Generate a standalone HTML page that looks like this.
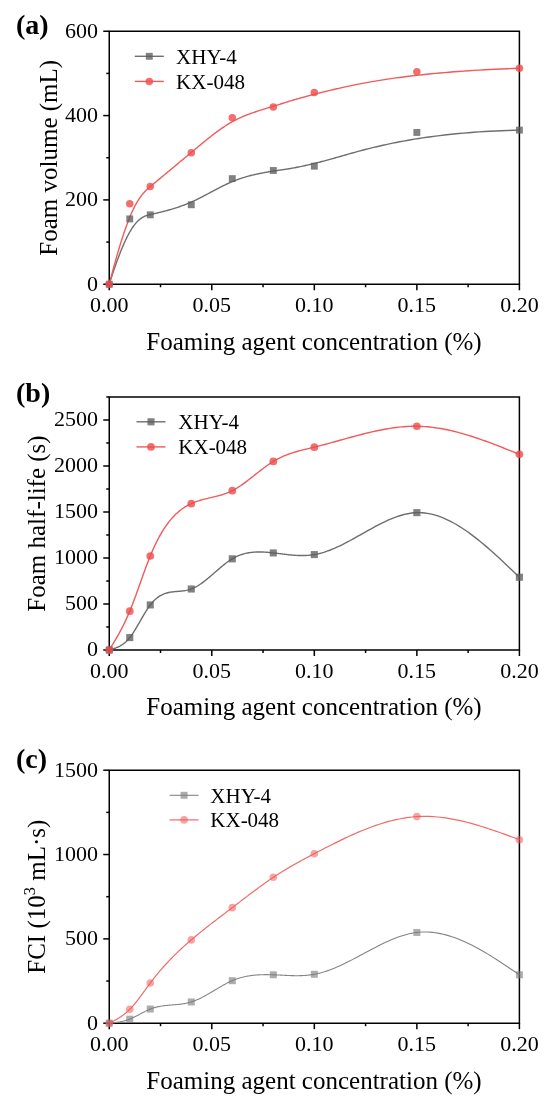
<!DOCTYPE html>
<html><head><meta charset="utf-8"><title>Foaming agent performance</title><style>
html,body{margin:0;padding:0;background:#fff;}
svg{display:block;}
text{font-family:"Liberation Serif","Times New Roman",serif;fill:#000;}
.pl{font-size:28px;font-weight:bold;}
.tl{font-size:22px;}
.lg{font-size:21px;}
.al{font-size:25px;}
.sup{font-size:16.5px;}
.ax{fill:none;stroke:#000;stroke-width:1.5;}
.tk{fill:none;stroke:#000;stroke-width:1.5;}
.cga,.cgb,.cgc{fill:none;stroke:#6e6e6e;stroke-width:1.4;}
.cra,.crb,.crc{fill:none;stroke:#f05a5a;stroke-width:1.4;}
.cgc{stroke:#858585;stroke-width:1.1;}
.crc{stroke:#f26a6a;stroke-width:1.2;}
.mga,.mgb{fill:#5e5e5e;fill-opacity:.78;}
.mra,.mrb{fill:#f04a4a;fill-opacity:.8;}
.mgc{fill:#7a7a7a;fill-opacity:.62;}
.mrc{fill:#f25a5a;fill-opacity:.55;}
</style></head>
<body><svg width="550" height="1105" viewBox="0 0 550 1105">
<text class="pl" x="16" y="34.1">(a)</text>
<path class="ax" d="M109.25 31.25H519.4V284.25H109.25Z"/>
<path class="tk" d="M103.25 284.25H109.25"/>
<text class="tl" x="98" y="290.55" text-anchor="end">0</text>
<path class="tk" d="M106.25 242.08H109.25"/>
<path class="tk" d="M103.25 199.92H109.25"/>
<text class="tl" x="98" y="206.22" text-anchor="end">200</text>
<path class="tk" d="M106.25 157.75H109.25"/>
<path class="tk" d="M103.25 115.58H109.25"/>
<text class="tl" x="98" y="121.88" text-anchor="end">400</text>
<path class="tk" d="M106.25 73.42H109.25"/>
<path class="tk" d="M103.25 31.25H109.25"/>
<text class="tl" x="98" y="37.55" text-anchor="end">600</text>
<path class="tk" d="M109.25 284.25V290.25"/>
<text class="tl" x="109.25" y="311.75" text-anchor="middle">0.00</text>
<path class="tk" d="M160.52 284.25V287.25"/>
<path class="tk" d="M211.79 284.25V290.25"/>
<text class="tl" x="211.79" y="311.75" text-anchor="middle">0.05</text>
<path class="tk" d="M263.06 284.25V287.25"/>
<path class="tk" d="M314.32 284.25V290.25"/>
<text class="tl" x="314.32" y="311.75" text-anchor="middle">0.10</text>
<path class="tk" d="M365.59 284.25V287.25"/>
<path class="tk" d="M416.86 284.25V290.25"/>
<text class="tl" x="416.86" y="311.75" text-anchor="middle">0.15</text>
<path class="tk" d="M468.13 284.25V287.25"/>
<path class="tk" d="M519.4 284.25V290.25"/>
<text class="tl" x="519.4" y="311.75" text-anchor="middle">0.20</text>
<text class="al" x="314" y="349.55" text-anchor="middle">Foaming agent concentration (%)</text>
<text class="al" transform="translate(56.8 157.75) rotate(-90)" text-anchor="middle">Foam volume (mL)</text>
<path class="cga" d="M109.25 284.25 L110.47 280.39 L111.67 276.68 L112.84 273.12 L114 269.7 L115.13 266.43 L116.23 263.28 L117.32 260.28 L118.38 257.4 L119.43 254.66 L120.45 252.04 L121.46 249.54 L122.45 247.16 L123.42 244.89 L124.37 242.74 L125.31 240.7 L126.23 238.76 L127.13 236.93 L128.02 235.2 L128.9 233.57 L129.76 232.02 L130.61 230.57 L131.44 229.21 L132.27 227.94 L133.08 226.74 L133.88 225.62 L134.67 224.58 L135.46 223.61 L136.23 222.71 L136.99 221.88 L137.75 221.11 L138.5 220.4 L139.24 219.74 L139.98 219.14 L140.71 218.59 L141.43 218.09 L142.15 217.63 L142.87 217.22 L143.58 216.84 L144.29 216.49 L145 216.18 L145.71 215.9 L146.41 215.64 L147.12 215.41 L147.82 215.2 L148.53 215 L149.24 214.81 L149.95 214.64 L150.66 214.47 L151.38 214.31 L152.09 214.15 L152.82 213.99 L153.54 213.82 L154.27 213.65 L155.01 213.49 L155.75 213.32 L156.49 213.14 L157.24 212.97 L157.99 212.79 L158.74 212.61 L159.49 212.43 L160.25 212.24 L161.02 212.06 L161.78 211.87 L162.55 211.67 L163.32 211.48 L164.1 211.28 L164.88 211.07 L165.66 210.87 L166.44 210.66 L167.22 210.45 L168.01 210.23 L168.8 210.01 L169.59 209.79 L170.39 209.56 L171.19 209.33 L171.98 209.09 L172.79 208.85 L173.59 208.61 L174.39 208.36 L175.2 208.11 L176.01 207.85 L176.82 207.59 L177.63 207.32 L178.44 207.05 L179.25 206.77 L180.07 206.49 L180.88 206.21 L181.7 205.91 L182.52 205.62 L183.34 205.31 L184.16 205.01 L184.98 204.69 L185.8 204.37 L186.62 204.05 L187.44 203.72 L188.26 203.38 L189.09 203.03 L189.91 202.69 L190.73 202.33 L191.55 201.97 L192.38 201.6 L193.2 201.22 L194.02 200.84 L194.85 200.46 L195.67 200.06 L196.49 199.67 L197.32 199.27 L198.14 198.86 L198.96 198.45 L199.78 198.04 L200.61 197.62 L201.43 197.2 L202.25 196.78 L203.08 196.35 L203.9 195.92 L204.72 195.49 L205.55 195.06 L206.37 194.62 L207.19 194.18 L208.02 193.75 L208.84 193.31 L209.66 192.87 L210.48 192.43 L211.31 191.99 L212.13 191.55 L212.95 191.11 L213.78 190.68 L214.6 190.24 L215.42 189.8 L216.25 189.37 L217.07 188.94 L217.89 188.51 L218.71 188.08 L219.54 187.65 L220.36 187.23 L221.18 186.81 L222.01 186.4 L222.83 185.99 L223.65 185.58 L224.48 185.18 L225.3 184.78 L226.12 184.39 L226.95 184 L227.77 183.62 L228.59 183.24 L229.41 182.87 L230.24 182.51 L231.06 182.15 L231.88 181.8 L232.71 181.45 L233.53 181.12 L234.35 180.79 L235.18 180.46 L236 180.15 L236.82 179.84 L237.64 179.54 L238.47 179.24 L239.29 178.95 L240.11 178.67 L240.94 178.39 L241.76 178.12 L242.58 177.85 L243.41 177.59 L244.23 177.34 L245.05 177.09 L245.88 176.85 L246.7 176.61 L247.52 176.38 L248.34 176.15 L249.17 175.93 L249.99 175.71 L250.81 175.5 L251.64 175.29 L252.46 175.09 L253.28 174.89 L254.11 174.7 L254.93 174.51 L255.75 174.32 L256.57 174.14 L257.4 173.96 L258.22 173.79 L259.04 173.62 L259.87 173.45 L260.69 173.29 L261.51 173.13 L262.34 172.97 L263.16 172.82 L263.98 172.67 L264.81 172.52 L265.63 172.37 L266.45 172.23 L267.27 172.09 L268.1 171.95 L268.92 171.81 L269.74 171.68 L270.57 171.55 L271.39 171.42 L272.21 171.29 L273.04 171.17 L273.86 171.04 L274.68 170.92 L275.51 170.8 L276.34 170.67 L277.17 170.55 L278 170.43 L278.84 170.31 L279.69 170.18 L280.54 170.06 L281.4 169.93 L282.27 169.8 L283.15 169.67 L284.04 169.53 L284.95 169.39 L285.86 169.25 L286.79 169.1 L287.73 168.95 L288.69 168.79 L289.66 168.62 L290.65 168.45 L291.66 168.28 L292.69 168.1 L293.73 167.91 L294.8 167.71 L295.89 167.5 L297 167.29 L298.14 167.06 L299.3 166.83 L300.48 166.59 L301.69 166.34 L302.93 166.08 L304.2 165.8 L305.49 165.52 L306.82 165.22 L308.17 164.91 L309.56 164.59 L310.98 164.26 L312.43 163.91 L313.92 163.55 L315.44 163.17 L317 162.78 L318.59 162.38 L320.23 161.96 L321.9 161.53 L323.61 161.07 L325.36 160.61 L327.16 160.12 L328.99 159.62 L330.87 159.1 L332.8 158.56 L334.77 158 L336.79 157.43 L338.85 156.84 L340.97 156.23 L343.13 155.61 L345.35 154.97 L347.62 154.32 L349.96 153.67 L352.34 153 L354.79 152.32 L357.3 151.63 L359.87 150.94 L362.5 150.24 L365.2 149.54 L367.97 148.83 L370.81 148.12 L373.71 147.41 L376.69 146.7 L379.75 145.99 L382.87 145.28 L386.08 144.57 L389.36 143.87 L392.72 143.17 L396.16 142.48 L399.69 141.79 L403.3 141.12 L407 140.45 L410.78 139.79 L414.65 139.15 L418.62 138.51 L422.68 137.89 L426.83 137.29 L431.07 136.7 L435.42 136.13 L439.86 135.57 L444.4 135.04 L449.04 134.52 L453.79 134.03 L458.64 133.55 L463.6 133.1 L468.67 132.68 L473.85 132.28 L479.14 131.91 L484.54 131.56 L490.05 131.25 L495.68 130.96 L501.43 130.7 L507.3 130.48 L513.29 130.29 L519.4 130.13"/>
<path class="cra" d="M109.25 284.25 L110.47 279.49 L111.67 274.9 L112.84 270.47 L114 266.21 L115.13 262.11 L116.23 258.16 L117.32 254.36 L118.38 250.72 L119.43 247.22 L120.45 243.86 L121.46 240.64 L122.45 237.55 L123.42 234.6 L124.37 231.77 L125.31 229.07 L126.23 226.49 L127.13 224.02 L128.02 221.67 L128.9 219.43 L129.76 217.29 L130.61 215.26 L131.44 213.32 L132.27 211.48 L133.08 209.74 L133.88 208.08 L134.67 206.51 L135.46 205.01 L136.23 203.6 L136.99 202.26 L137.75 200.99 L138.5 199.79 L139.24 198.65 L139.98 197.58 L140.71 196.56 L141.43 195.59 L142.15 194.67 L142.87 193.8 L143.58 192.97 L144.29 192.18 L145 191.42 L145.71 190.7 L146.41 190 L147.12 189.33 L147.82 188.68 L148.53 188.05 L149.24 187.43 L149.95 186.82 L150.66 186.22 L151.38 185.62 L152.09 185.02 L152.82 184.42 L153.54 183.82 L154.27 183.21 L155.01 182.6 L155.75 181.99 L156.49 181.37 L157.24 180.76 L157.99 180.13 L158.74 179.51 L159.49 178.88 L160.25 178.25 L161.02 177.62 L161.78 176.99 L162.55 176.35 L163.32 175.71 L164.1 175.07 L164.88 174.43 L165.66 173.78 L166.44 173.13 L167.22 172.48 L168.01 171.83 L168.8 171.18 L169.59 170.52 L170.39 169.86 L171.19 169.2 L171.98 168.54 L172.79 167.88 L173.59 167.21 L174.39 166.54 L175.2 165.88 L176.01 165.21 L176.82 164.53 L177.63 163.86 L178.44 163.19 L179.25 162.51 L180.07 161.83 L180.88 161.16 L181.7 160.48 L182.52 159.8 L183.34 159.11 L184.16 158.43 L184.98 157.75 L185.8 157.06 L186.62 156.38 L187.44 155.69 L188.26 155 L189.09 154.32 L189.91 153.63 L190.73 152.94 L191.55 152.25 L192.38 151.56 L193.2 150.87 L194.02 150.18 L194.85 149.49 L195.67 148.8 L196.49 148.11 L197.32 147.42 L198.14 146.73 L198.96 146.05 L199.78 145.36 L200.61 144.68 L201.43 144 L202.25 143.32 L203.08 142.64 L203.9 141.97 L204.72 141.3 L205.55 140.63 L206.37 139.96 L207.19 139.3 L208.02 138.64 L208.84 137.99 L209.66 137.33 L210.48 136.69 L211.31 136.04 L212.13 135.4 L212.95 134.77 L213.78 134.14 L214.6 133.52 L215.42 132.9 L216.25 132.29 L217.07 131.68 L217.89 131.08 L218.71 130.48 L219.54 129.89 L220.36 129.31 L221.18 128.73 L222.01 128.17 L222.83 127.6 L223.65 127.05 L224.48 126.5 L225.3 125.97 L226.12 125.44 L226.95 124.91 L227.77 124.4 L228.59 123.89 L229.41 123.4 L230.24 122.91 L231.06 122.43 L231.88 121.96 L232.71 121.5 L233.53 121.05 L234.35 120.61 L235.18 120.18 L236 119.76 L236.82 119.35 L237.64 118.94 L238.47 118.55 L239.29 118.16 L240.11 117.78 L240.94 117.41 L241.76 117.04 L242.58 116.68 L243.41 116.33 L244.23 115.99 L245.05 115.65 L245.88 115.32 L246.7 114.99 L247.52 114.67 L248.34 114.36 L249.17 114.05 L249.99 113.74 L250.81 113.45 L251.64 113.15 L252.46 112.86 L253.28 112.58 L254.11 112.29 L254.93 112.02 L255.75 111.74 L256.57 111.47 L257.4 111.2 L258.22 110.94 L259.04 110.67 L259.87 110.41 L260.69 110.16 L261.51 109.9 L262.34 109.64 L263.16 109.39 L263.98 109.14 L264.81 108.89 L265.63 108.64 L266.45 108.39 L267.27 108.14 L268.1 107.89 L268.92 107.64 L269.74 107.4 L270.57 107.15 L271.39 106.9 L272.21 106.64 L273.04 106.39 L273.86 106.14 L274.68 105.88 L275.51 105.62 L276.34 105.36 L277.17 105.1 L278 104.84 L278.84 104.58 L279.69 104.31 L280.54 104.04 L281.4 103.77 L282.27 103.49 L283.15 103.21 L284.04 102.93 L284.95 102.65 L285.86 102.37 L286.79 102.08 L287.73 101.78 L288.69 101.49 L289.66 101.19 L290.65 100.89 L291.66 100.58 L292.69 100.27 L293.73 99.96 L294.8 99.65 L295.89 99.32 L297 99 L298.14 98.67 L299.3 98.34 L300.48 98 L301.69 97.66 L302.93 97.31 L304.2 96.96 L305.49 96.61 L306.82 96.24 L308.17 95.88 L309.56 95.51 L310.98 95.13 L312.43 94.75 L313.92 94.36 L315.44 93.97 L317 93.57 L318.59 93.17 L320.23 92.76 L321.9 92.35 L323.61 91.93 L325.36 91.5 L327.16 91.07 L328.99 90.63 L330.87 90.18 L332.8 89.73 L334.77 89.27 L336.79 88.8 L338.85 88.33 L340.97 87.85 L343.13 87.37 L345.35 86.89 L347.62 86.4 L349.96 85.91 L352.34 85.41 L354.79 84.91 L357.3 84.41 L359.87 83.91 L362.5 83.41 L365.2 82.9 L367.97 82.4 L370.81 81.89 L373.71 81.39 L376.69 80.89 L379.75 80.39 L382.87 79.89 L386.08 79.39 L389.36 78.9 L392.72 78.41 L396.16 77.93 L399.69 77.45 L403.3 76.97 L407 76.5 L410.78 76.04 L414.65 75.58 L418.62 75.13 L422.68 74.68 L426.83 74.25 L431.07 73.82 L435.42 73.4 L439.86 72.99 L444.4 72.59 L449.04 72.19 L453.79 71.81 L458.64 71.44 L463.6 71.08 L468.67 70.74 L473.85 70.4 L479.14 70.08 L484.54 69.77 L490.05 69.48 L495.68 69.2 L501.43 68.93 L507.3 68.68 L513.29 68.45 L519.4 68.23"/>
<rect class="mga" x="105.8" y="280.8" width="6.9" height="6.9"/>
<rect class="mga" x="126.31" y="215.44" width="6.9" height="6.9"/>
<rect class="mga" x="146.81" y="211.39" width="6.9" height="6.9"/>
<rect class="mga" x="187.83" y="201.32" width="6.9" height="6.9"/>
<rect class="mga" x="228.84" y="175.17" width="6.9" height="6.9"/>
<rect class="mga" x="269.86" y="167.03" width="6.9" height="6.9"/>
<rect class="mga" x="310.88" y="162.73" width="6.9" height="6.9"/>
<rect class="mga" x="413.41" y="129" width="6.9" height="6.9"/>
<rect class="mga" x="515.95" y="126.68" width="6.9" height="6.9"/>
<circle class="mra" cx="109.25" cy="284.25" r="3.75"/>
<circle class="mra" cx="129.76" cy="203.71" r="3.75"/>
<circle class="mra" cx="150.26" cy="186.42" r="3.75"/>
<circle class="mra" cx="191.28" cy="152.69" r="3.75"/>
<circle class="mra" cx="232.29" cy="117.69" r="3.75"/>
<circle class="mra" cx="273.31" cy="106.94" r="3.75"/>
<circle class="mra" cx="314.32" cy="92.39" r="3.75"/>
<circle class="mra" cx="416.86" cy="71.73" r="3.75"/>
<circle class="mra" cx="519.4" cy="68.23" r="3.75"/>
<path class="cga" d="M134.8 56.3H163.8"/>
<rect class="mga" x="145.85" y="52.85" width="6.9" height="6.9"/>
<text class="lg" x="176.1" y="63.5">XHY-4</text>
<path class="cra" d="M134.8 81.4H163.8"/>
<circle class="mra" cx="149.3" cy="81.4" r="3.75"/>
<text class="lg" x="176.1" y="88.6">KX-048</text>
<text class="pl" x="16" y="401.7">(b)</text>
<path class="ax" d="M109.25 397H519.4V650H109.25Z"/>
<path class="tk" d="M103.25 650H109.25"/>
<text class="tl" x="98" y="656.3" text-anchor="end">0</text>
<path class="tk" d="M106.25 627H109.25"/>
<path class="tk" d="M103.25 604H109.25"/>
<text class="tl" x="98" y="610.3" text-anchor="end">500</text>
<path class="tk" d="M106.25 581H109.25"/>
<path class="tk" d="M103.25 558H109.25"/>
<text class="tl" x="98" y="564.3" text-anchor="end">1000</text>
<path class="tk" d="M106.25 535H109.25"/>
<path class="tk" d="M103.25 512H109.25"/>
<text class="tl" x="98" y="518.3" text-anchor="end">1500</text>
<path class="tk" d="M106.25 489H109.25"/>
<path class="tk" d="M103.25 466H109.25"/>
<text class="tl" x="98" y="472.3" text-anchor="end">2000</text>
<path class="tk" d="M106.25 443H109.25"/>
<path class="tk" d="M103.25 420H109.25"/>
<text class="tl" x="98" y="426.3" text-anchor="end">2500</text>
<path class="tk" d="M106.25 397H109.25"/>
<path class="tk" d="M109.25 650V656"/>
<text class="tl" x="109.25" y="677.5" text-anchor="middle">0.00</text>
<path class="tk" d="M160.52 650V653"/>
<path class="tk" d="M211.79 650V656"/>
<text class="tl" x="211.79" y="677.5" text-anchor="middle">0.05</text>
<path class="tk" d="M263.06 650V653"/>
<path class="tk" d="M314.32 650V656"/>
<text class="tl" x="314.32" y="677.5" text-anchor="middle">0.10</text>
<path class="tk" d="M365.59 650V653"/>
<path class="tk" d="M416.86 650V656"/>
<text class="tl" x="416.86" y="677.5" text-anchor="middle">0.15</text>
<path class="tk" d="M468.13 650V653"/>
<path class="tk" d="M519.4 650V656"/>
<text class="tl" x="519.4" y="677.5" text-anchor="middle">0.20</text>
<text class="al" x="314" y="715.3" text-anchor="middle">Foaming agent concentration (%)</text>
<text class="al" transform="translate(44.8 523.5) rotate(-90)" text-anchor="middle">Foam half-life (s)</text>
<path class="cgb" d="M109.25 650 L109.76 649.85 L110.28 649.71 L110.79 649.56 L111.3 649.41 L111.81 649.26 L112.33 649.11 L112.84 648.95 L113.35 648.79 L113.86 648.62 L114.38 648.45 L114.89 648.27 L115.4 648.08 L115.91 647.89 L116.43 647.68 L116.94 647.47 L117.45 647.25 L117.97 647.03 L118.48 646.78 L118.99 646.53 L119.5 646.27 L120.02 646 L120.53 645.71 L121.04 645.4 L121.55 645.09 L122.07 644.76 L122.58 644.41 L123.09 644.05 L123.61 643.67 L124.12 643.27 L124.63 642.86 L125.14 642.42 L125.66 641.97 L126.17 641.5 L126.68 641 L127.19 640.49 L127.71 639.95 L128.22 639.39 L128.73 638.81 L129.24 638.21 L129.76 637.58 L130.27 636.93 L130.78 636.25 L131.3 635.55 L131.81 634.83 L132.32 634.09 L132.83 633.33 L133.35 632.55 L133.86 631.76 L134.37 630.95 L134.88 630.13 L135.4 629.29 L135.91 628.45 L136.42 627.59 L136.94 626.72 L137.45 625.85 L137.96 624.97 L138.47 624.08 L138.99 623.19 L139.5 622.29 L140.01 621.4 L140.52 620.5 L141.04 619.6 L141.55 618.71 L142.06 617.82 L142.57 616.93 L143.09 616.05 L143.6 615.17 L144.11 614.3 L144.63 613.44 L145.14 612.59 L145.65 611.76 L146.16 610.93 L146.68 610.12 L147.19 609.32 L147.7 608.54 L148.21 607.78 L148.73 607.03 L149.24 606.31 L149.75 605.6 L150.26 604.92 L151.29 603.62 L152.32 602.42 L153.34 601.3 L154.37 600.26 L155.39 599.31 L156.42 598.42 L157.44 597.62 L158.47 596.88 L159.49 596.2 L160.52 595.59 L161.54 595.04 L162.57 594.54 L163.59 594.09 L164.62 593.7 L165.65 593.34 L166.67 593.03 L167.7 592.76 L168.72 592.52 L169.75 592.31 L170.77 592.13 L171.8 591.98 L172.82 591.84 L173.85 591.72 L174.87 591.62 L175.9 591.53 L176.92 591.44 L177.95 591.35 L178.98 591.27 L180 591.18 L181.03 591.09 L182.05 590.99 L183.08 590.87 L184.1 590.73 L185.13 590.57 L186.15 590.39 L187.18 590.18 L188.2 589.94 L189.23 589.67 L190.25 589.36 L191.28 589 L192.31 588.61 L193.33 588.16 L194.36 587.68 L195.38 587.16 L196.41 586.6 L197.43 586.01 L198.46 585.38 L199.48 584.72 L200.51 584.04 L201.53 583.32 L202.56 582.58 L203.58 581.82 L204.61 581.03 L205.64 580.23 L206.66 579.4 L207.69 578.56 L208.71 577.71 L209.74 576.85 L210.76 575.97 L211.79 575.09 L212.81 574.21 L213.84 573.31 L214.86 572.42 L215.89 571.53 L216.91 570.64 L217.94 569.75 L218.97 568.87 L219.99 567.99 L221.02 567.13 L222.04 566.28 L223.07 565.44 L224.09 564.62 L225.12 563.81 L226.14 563.02 L227.17 562.26 L228.19 561.52 L229.22 560.8 L230.24 560.11 L231.27 559.46 L232.29 558.83 L233.32 558.23 L234.35 557.67 L235.37 557.14 L236.4 556.64 L237.42 556.17 L238.45 555.73 L239.47 555.32 L240.5 554.94 L241.52 554.58 L242.55 554.25 L243.57 553.95 L244.6 553.67 L245.62 553.41 L246.65 553.18 L247.68 552.97 L248.7 552.79 L249.73 552.62 L250.75 552.48 L251.78 552.35 L252.8 552.24 L253.83 552.16 L254.85 552.09 L255.88 552.03 L256.9 551.99 L257.93 551.97 L258.95 551.96 L259.98 551.97 L261.01 551.99 L262.03 552.02 L263.06 552.06 L264.08 552.11 L265.11 552.17 L266.13 552.24 L267.16 552.32 L268.18 552.41 L269.21 552.51 L270.23 552.61 L271.26 552.71 L272.28 552.83 L273.31 552.94 L274.34 553.06 L275.36 553.18 L276.39 553.3 L277.41 553.43 L278.44 553.55 L279.46 553.68 L280.49 553.8 L281.51 553.93 L282.54 554.05 L283.56 554.18 L284.59 554.3 L285.61 554.42 L286.64 554.53 L287.67 554.64 L288.69 554.75 L289.72 554.86 L290.74 554.95 L291.77 555.05 L292.79 555.13 L293.82 555.21 L294.84 555.28 L295.87 555.35 L296.89 555.41 L297.92 555.45 L298.94 555.49 L299.97 555.52 L301 555.54 L302.02 555.54 L303.05 555.54 L304.07 555.52 L305.1 555.5 L306.12 555.45 L307.15 555.4 L308.17 555.33 L309.2 555.25 L310.22 555.15 L311.25 555.04 L312.27 554.91 L313.3 554.76 L314.32 554.6 L316.89 554.11 L319.45 553.52 L322.02 552.84 L324.58 552.06 L327.14 551.19 L329.71 550.24 L332.27 549.22 L334.83 548.14 L337.4 546.98 L339.96 545.78 L342.52 544.52 L345.09 543.21 L347.65 541.87 L350.21 540.5 L352.78 539.09 L355.34 537.67 L357.9 536.23 L360.47 534.78 L363.03 533.33 L365.59 531.89 L368.16 530.45 L370.72 529.02 L373.28 527.62 L375.85 526.24 L378.41 524.9 L380.97 523.59 L383.54 522.33 L386.1 521.11 L388.66 519.96 L391.23 518.86 L393.79 517.84 L396.36 516.89 L398.92 516.01 L401.48 515.23 L404.05 514.53 L406.61 513.94 L409.17 513.44 L411.74 513.06 L414.3 512.79 L416.86 512.64 L419.49 512.62 L422.12 512.74 L424.75 512.97 L427.38 513.33 L430.01 513.82 L432.64 514.42 L435.27 515.13 L437.9 515.95 L440.52 516.88 L443.15 517.91 L445.78 519.04 L448.41 520.27 L451.04 521.59 L453.67 523 L456.3 524.5 L458.93 526.07 L461.56 527.73 L464.19 529.46 L466.82 531.27 L469.45 533.14 L472.07 535.08 L474.7 537.08 L477.33 539.14 L479.96 541.26 L482.59 543.42 L485.22 545.63 L487.85 547.89 L490.48 550.19 L493.11 552.53 L495.74 554.9 L498.37 557.3 L501 559.74 L503.62 562.19 L506.25 564.66 L508.88 567.16 L511.51 569.66 L514.14 572.18 L516.77 574.7 L519.4 577.23"/>
<path class="crb" d="M109.25 650 L109.76 649.16 L110.28 648.33 L110.79 647.49 L111.3 646.65 L111.81 645.81 L112.33 644.97 L112.84 644.12 L113.35 643.27 L113.86 642.42 L114.38 641.56 L114.89 640.69 L115.4 639.83 L115.91 638.95 L116.43 638.07 L116.94 637.18 L117.45 636.28 L117.97 635.38 L118.48 634.47 L118.99 633.54 L119.5 632.61 L120.02 631.67 L120.53 630.72 L121.04 629.75 L121.55 628.78 L122.07 627.79 L122.58 626.79 L123.09 625.78 L123.61 624.75 L124.12 623.71 L124.63 622.65 L125.14 621.58 L125.66 620.49 L126.17 619.39 L126.68 618.27 L127.19 617.14 L127.71 615.98 L128.22 614.81 L128.73 613.62 L129.24 612.41 L129.76 611.18 L130.27 609.93 L130.78 608.66 L131.3 607.37 L131.81 606.06 L132.32 604.74 L132.83 603.41 L133.35 602.05 L133.86 600.69 L134.37 599.31 L134.88 597.93 L135.4 596.53 L135.91 595.12 L136.42 593.71 L136.94 592.28 L137.45 590.85 L137.96 589.42 L138.47 587.98 L138.99 586.54 L139.5 585.09 L140.01 583.65 L140.52 582.2 L141.04 580.76 L141.55 579.31 L142.06 577.87 L142.57 576.43 L143.09 575 L143.6 573.57 L144.11 572.15 L144.63 570.74 L145.14 569.33 L145.65 567.94 L146.16 566.55 L146.68 565.18 L147.19 563.82 L147.7 562.47 L148.21 561.14 L148.73 559.82 L149.24 558.52 L149.75 557.24 L150.26 555.98 L151.29 553.51 L152.32 551.11 L153.34 548.79 L154.37 546.55 L155.39 544.38 L156.42 542.27 L157.44 540.24 L158.47 538.28 L159.49 536.39 L160.52 534.56 L161.54 532.79 L162.57 531.09 L163.59 529.45 L164.62 527.87 L165.65 526.35 L166.67 524.89 L167.7 523.48 L168.72 522.13 L169.75 520.84 L170.77 519.59 L171.8 518.4 L172.82 517.26 L173.85 516.16 L174.87 515.11 L175.9 514.11 L176.92 513.15 L177.95 512.23 L178.98 511.36 L180 510.53 L181.03 509.73 L182.05 508.98 L183.08 508.25 L184.1 507.57 L185.13 506.92 L186.15 506.3 L187.18 505.71 L188.2 505.15 L189.23 504.61 L190.25 504.11 L191.28 503.63 L192.31 503.17 L193.33 502.74 L194.36 502.33 L195.38 501.94 L196.41 501.56 L197.43 501.21 L198.46 500.87 L199.48 500.55 L200.51 500.24 L201.53 499.94 L202.56 499.66 L203.58 499.38 L204.61 499.12 L205.64 498.86 L206.66 498.61 L207.69 498.36 L208.71 498.12 L209.74 497.88 L210.76 497.64 L211.79 497.4 L212.81 497.16 L213.84 496.91 L214.86 496.67 L215.89 496.42 L216.91 496.16 L217.94 495.89 L218.97 495.62 L219.99 495.33 L221.02 495.03 L222.04 494.73 L223.07 494.4 L224.09 494.06 L225.12 493.71 L226.14 493.34 L227.17 492.94 L228.19 492.53 L229.22 492.1 L230.24 491.64 L231.27 491.16 L232.29 490.66 L233.32 490.12 L234.35 489.57 L235.37 488.98 L236.4 488.38 L237.42 487.75 L238.45 487.11 L239.47 486.44 L240.5 485.75 L241.52 485.05 L242.55 484.33 L243.57 483.6 L244.6 482.86 L245.62 482.1 L246.65 481.33 L247.68 480.55 L248.7 479.76 L249.73 478.97 L250.75 478.17 L251.78 477.36 L252.8 476.55 L253.83 475.74 L254.85 474.92 L255.88 474.11 L256.9 473.3 L257.93 472.49 L258.95 471.68 L259.98 470.88 L261.01 470.08 L262.03 469.29 L263.06 468.51 L264.08 467.73 L265.11 466.97 L266.13 466.22 L267.16 465.48 L268.18 464.76 L269.21 464.05 L270.23 463.36 L271.26 462.69 L272.28 462.03 L273.31 461.4 L274.34 460.79 L275.36 460.19 L276.39 459.62 L277.41 459.07 L278.44 458.54 L279.46 458.02 L280.49 457.53 L281.51 457.05 L282.54 456.58 L283.56 456.13 L284.59 455.7 L285.61 455.29 L286.64 454.88 L287.67 454.49 L288.69 454.12 L289.72 453.75 L290.74 453.4 L291.77 453.06 L292.79 452.73 L293.82 452.41 L294.84 452.09 L295.87 451.79 L296.89 451.5 L297.92 451.21 L298.94 450.93 L299.97 450.65 L301 450.39 L302.02 450.12 L303.05 449.86 L304.07 449.61 L305.1 449.36 L306.12 449.11 L307.15 448.86 L308.17 448.62 L309.2 448.37 L310.22 448.13 L311.25 447.88 L312.27 447.64 L313.3 447.39 L314.32 447.14 L316.89 446.51 L319.45 445.85 L322.02 445.19 L324.58 444.51 L327.14 443.83 L329.71 443.13 L332.27 442.43 L334.83 441.72 L337.4 441.01 L339.96 440.29 L342.52 439.58 L345.09 438.86 L347.65 438.15 L350.21 437.45 L352.78 436.75 L355.34 436.06 L357.9 435.37 L360.47 434.7 L363.03 434.05 L365.59 433.4 L368.16 432.78 L370.72 432.17 L373.28 431.58 L375.85 431.02 L378.41 430.47 L380.97 429.95 L383.54 429.46 L386.1 429 L388.66 428.57 L391.23 428.16 L393.79 427.79 L396.36 427.46 L398.92 427.16 L401.48 426.91 L404.05 426.69 L406.61 426.51 L409.17 426.38 L411.74 426.29 L414.3 426.25 L416.86 426.26 L419.49 426.32 L422.12 426.43 L424.75 426.59 L427.38 426.8 L430.01 427.05 L432.64 427.36 L435.27 427.7 L437.9 428.09 L440.52 428.53 L443.15 429 L445.78 429.51 L448.41 430.06 L451.04 430.65 L453.67 431.27 L456.3 431.93 L458.93 432.62 L461.56 433.34 L464.19 434.09 L466.82 434.87 L469.45 435.67 L472.07 436.5 L474.7 437.36 L477.33 438.24 L479.96 439.14 L482.59 440.06 L485.22 441 L487.85 441.95 L490.48 442.93 L493.11 443.91 L495.74 444.92 L498.37 445.93 L501 446.95 L503.62 447.99 L506.25 449.03 L508.88 450.08 L511.51 451.13 L514.14 452.19 L516.77 453.25 L519.4 454.32"/>
<rect class="mgb" x="105.7" y="646.45" width="7.1" height="7.1"/>
<rect class="mgb" x="126.21" y="634.03" width="7.1" height="7.1"/>
<rect class="mgb" x="146.71" y="601.37" width="7.1" height="7.1"/>
<rect class="mgb" x="187.73" y="585.45" width="7.1" height="7.1"/>
<rect class="mgb" x="228.74" y="555.28" width="7.1" height="7.1"/>
<rect class="mgb" x="269.76" y="549.39" width="7.1" height="7.1"/>
<rect class="mgb" x="310.77" y="551.05" width="7.1" height="7.1"/>
<rect class="mgb" x="413.31" y="509.09" width="7.1" height="7.1"/>
<rect class="mgb" x="515.85" y="573.68" width="7.1" height="7.1"/>
<circle class="mrb" cx="109.25" cy="650" r="3.85"/>
<circle class="mrb" cx="129.76" cy="611.18" r="3.85"/>
<circle class="mrb" cx="150.26" cy="555.98" r="3.85"/>
<circle class="mrb" cx="191.28" cy="503.63" r="3.85"/>
<circle class="mrb" cx="232.29" cy="490.66" r="3.85"/>
<circle class="mrb" cx="273.31" cy="461.4" r="3.85"/>
<circle class="mrb" cx="314.32" cy="447.14" r="3.85"/>
<circle class="mrb" cx="416.86" cy="426.26" r="3.85"/>
<circle class="mrb" cx="519.4" cy="454.32" r="3.85"/>
<path class="cgb" d="M136.5 421.8H165.5"/>
<rect class="mgb" x="147.45" y="418.25" width="7.1" height="7.1"/>
<text class="lg" x="178.3" y="429">XHY-4</text>
<path class="crb" d="M136.5 446.9H165.5"/>
<circle class="mrb" cx="151" cy="446.9" r="3.85"/>
<text class="lg" x="178.3" y="454.1">KX-048</text>
<text class="pl" x="16" y="767.9">(c)</text>
<path class="ax" d="M109.25 770.2H519.4V1023.2H109.25Z"/>
<path class="tk" d="M103.25 1023.2H109.25"/>
<text class="tl" x="98" y="1029.5" text-anchor="end">0</text>
<path class="tk" d="M106.25 981.03H109.25"/>
<path class="tk" d="M103.25 938.87H109.25"/>
<text class="tl" x="98" y="945.17" text-anchor="end">500</text>
<path class="tk" d="M106.25 896.7H109.25"/>
<path class="tk" d="M103.25 854.53H109.25"/>
<text class="tl" x="98" y="860.83" text-anchor="end">1000</text>
<path class="tk" d="M106.25 812.37H109.25"/>
<path class="tk" d="M103.25 770.2H109.25"/>
<text class="tl" x="98" y="776.5" text-anchor="end">1500</text>
<path class="tk" d="M109.25 1023.2V1029.2"/>
<text class="tl" x="109.25" y="1050.7" text-anchor="middle">0.00</text>
<path class="tk" d="M160.52 1023.2V1026.2"/>
<path class="tk" d="M211.79 1023.2V1029.2"/>
<text class="tl" x="211.79" y="1050.7" text-anchor="middle">0.05</text>
<path class="tk" d="M263.06 1023.2V1026.2"/>
<path class="tk" d="M314.32 1023.2V1029.2"/>
<text class="tl" x="314.32" y="1050.7" text-anchor="middle">0.10</text>
<path class="tk" d="M365.59 1023.2V1026.2"/>
<path class="tk" d="M416.86 1023.2V1029.2"/>
<text class="tl" x="416.86" y="1050.7" text-anchor="middle">0.15</text>
<path class="tk" d="M468.13 1023.2V1026.2"/>
<path class="tk" d="M519.4 1023.2V1029.2"/>
<text class="tl" x="519.4" y="1050.7" text-anchor="middle">0.20</text>
<text class="al" x="314" y="1088.5" text-anchor="middle">Foaming agent concentration (%)</text>
<text class="al" transform="translate(44.8 896.7) rotate(-90)" text-anchor="middle">FCI (10<tspan class="sup" dy="-10">3</tspan><tspan dy="10"> mL·s)</tspan></text>
<path class="cgc" d="M109.25 1023.2 L109.76 1023.15 L110.28 1023.1 L110.79 1023.05 L111.3 1023 L111.81 1022.94 L112.33 1022.89 L112.84 1022.83 L113.35 1022.78 L113.86 1022.72 L114.38 1022.66 L114.89 1022.6 L115.4 1022.54 L115.91 1022.47 L116.43 1022.4 L116.94 1022.33 L117.45 1022.26 L117.97 1022.18 L118.48 1022.1 L118.99 1022.02 L119.5 1021.93 L120.02 1021.84 L120.53 1021.75 L121.04 1021.65 L121.55 1021.55 L122.07 1021.44 L122.58 1021.33 L123.09 1021.21 L123.61 1021.09 L124.12 1020.96 L124.63 1020.83 L125.14 1020.69 L125.66 1020.54 L126.17 1020.39 L126.68 1020.24 L127.19 1020.07 L127.71 1019.9 L128.22 1019.73 L128.73 1019.54 L129.24 1019.35 L129.76 1019.15 L130.27 1018.95 L130.78 1018.73 L131.3 1018.51 L131.81 1018.29 L132.32 1018.05 L132.83 1017.82 L133.35 1017.57 L133.86 1017.32 L134.37 1017.07 L134.88 1016.81 L135.4 1016.55 L135.91 1016.29 L136.42 1016.02 L136.94 1015.75 L137.45 1015.48 L137.96 1015.21 L138.47 1014.93 L138.99 1014.65 L139.5 1014.38 L140.01 1014.1 L140.52 1013.82 L141.04 1013.54 L141.55 1013.26 L142.06 1012.99 L142.57 1012.71 L143.09 1012.44 L143.6 1012.17 L144.11 1011.9 L144.63 1011.64 L145.14 1011.38 L145.65 1011.12 L146.16 1010.87 L146.68 1010.62 L147.19 1010.37 L147.7 1010.13 L148.21 1009.9 L148.73 1009.67 L149.24 1009.45 L149.75 1009.24 L150.26 1009.03 L151.29 1008.64 L152.32 1008.28 L153.34 1007.94 L154.37 1007.63 L155.39 1007.35 L156.42 1007.08 L157.44 1006.84 L158.47 1006.62 L159.49 1006.42 L160.52 1006.24 L161.54 1006.07 L162.57 1005.92 L163.59 1005.78 L164.62 1005.65 L165.65 1005.53 L166.67 1005.43 L167.7 1005.33 L168.72 1005.23 L169.75 1005.14 L170.77 1005.06 L171.8 1004.98 L172.82 1004.89 L173.85 1004.81 L174.87 1004.72 L175.9 1004.64 L176.92 1004.54 L177.95 1004.44 L178.98 1004.34 L180 1004.22 L181.03 1004.09 L182.05 1003.96 L183.08 1003.8 L184.1 1003.64 L185.13 1003.46 L186.15 1003.26 L187.18 1003.04 L188.2 1002.8 L189.23 1002.54 L190.25 1002.26 L191.28 1001.95 L192.31 1001.62 L193.33 1001.26 L194.36 1000.88 L195.38 1000.47 L196.41 1000.05 L197.43 999.6 L198.46 999.14 L199.48 998.66 L200.51 998.16 L201.53 997.65 L202.56 997.12 L203.58 996.58 L204.61 996.03 L205.64 995.46 L206.66 994.89 L207.69 994.31 L208.71 993.72 L209.74 993.12 L210.76 992.52 L211.79 991.91 L212.81 991.3 L213.84 990.69 L214.86 990.08 L215.89 989.47 L216.91 988.86 L217.94 988.26 L218.97 987.65 L219.99 987.06 L221.02 986.47 L222.04 985.88 L223.07 985.31 L224.09 984.74 L225.12 984.19 L226.14 983.64 L227.17 983.11 L228.19 982.6 L229.22 982.09 L230.24 981.61 L231.27 981.14 L232.29 980.7 L233.32 980.27 L234.35 979.86 L235.37 979.47 L236.4 979.1 L237.42 978.74 L238.45 978.41 L239.47 978.09 L240.5 977.79 L241.52 977.51 L242.55 977.24 L243.57 976.99 L244.6 976.75 L245.62 976.53 L246.65 976.32 L247.68 976.13 L248.7 975.95 L249.73 975.79 L250.75 975.64 L251.78 975.5 L252.8 975.37 L253.83 975.26 L254.85 975.15 L255.88 975.06 L256.9 974.98 L257.93 974.91 L258.95 974.84 L259.98 974.79 L261.01 974.75 L262.03 974.71 L263.06 974.69 L264.08 974.67 L265.11 974.66 L266.13 974.66 L267.16 974.66 L268.18 974.67 L269.21 974.68 L270.23 974.7 L271.26 974.73 L272.28 974.76 L273.31 974.79 L274.34 974.83 L275.36 974.87 L276.39 974.92 L277.41 974.96 L278.44 975.01 L279.46 975.06 L280.49 975.12 L281.51 975.17 L282.54 975.22 L283.56 975.27 L284.59 975.32 L285.61 975.37 L286.64 975.42 L287.67 975.47 L288.69 975.51 L289.72 975.55 L290.74 975.58 L291.77 975.61 L292.79 975.64 L293.82 975.66 L294.84 975.68 L295.87 975.69 L296.89 975.69 L297.92 975.69 L298.94 975.68 L299.97 975.66 L301 975.63 L302.02 975.59 L303.05 975.55 L304.07 975.49 L305.1 975.43 L306.12 975.35 L307.15 975.26 L308.17 975.16 L309.2 975.05 L310.22 974.92 L311.25 974.79 L312.27 974.63 L313.3 974.47 L314.32 974.29 L316.89 973.77 L319.45 973.16 L322.02 972.47 L324.58 971.7 L327.14 970.86 L329.71 969.94 L332.27 968.96 L334.83 967.92 L337.4 966.83 L339.96 965.68 L342.52 964.49 L345.09 963.26 L347.65 962 L350.21 960.7 L352.78 959.38 L355.34 958.04 L357.9 956.68 L360.47 955.31 L363.03 953.94 L365.59 952.56 L368.16 951.19 L370.72 949.83 L373.28 948.48 L375.85 947.15 L378.41 945.84 L380.97 944.57 L383.54 943.32 L386.1 942.12 L388.66 940.96 L391.23 939.85 L393.79 938.79 L396.36 937.78 L398.92 936.85 L401.48 935.98 L404.05 935.18 L406.61 934.46 L409.17 933.82 L411.74 933.27 L414.3 932.82 L416.86 932.46 L419.49 932.19 L422.12 932.04 L424.75 931.98 L427.38 932.03 L430.01 932.17 L432.64 932.4 L435.27 932.73 L437.9 933.14 L440.52 933.64 L443.15 934.23 L445.78 934.89 L448.41 935.63 L451.04 936.45 L453.67 937.33 L456.3 938.29 L458.93 939.31 L461.56 940.4 L464.19 941.55 L466.82 942.75 L469.45 944.01 L472.07 945.33 L474.7 946.69 L477.33 948.1 L479.96 949.55 L482.59 951.05 L485.22 952.58 L487.85 954.15 L490.48 955.76 L493.11 957.39 L495.74 959.05 L498.37 960.74 L501 962.45 L503.62 964.17 L506.25 965.92 L508.88 967.68 L511.51 969.45 L514.14 971.22 L516.77 973.01 L519.4 974.79"/>
<path class="crc" d="M109.25 1023.2 L109.76 1022.94 L110.28 1022.68 L110.79 1022.42 L111.3 1022.16 L111.81 1021.89 L112.33 1021.63 L112.84 1021.36 L113.35 1021.09 L113.86 1020.82 L114.38 1020.55 L114.89 1020.27 L115.4 1019.99 L115.91 1019.7 L116.43 1019.41 L116.94 1019.12 L117.45 1018.82 L117.97 1018.52 L118.48 1018.21 L118.99 1017.89 L119.5 1017.57 L120.02 1017.24 L120.53 1016.91 L121.04 1016.57 L121.55 1016.22 L122.07 1015.86 L122.58 1015.5 L123.09 1015.12 L123.61 1014.74 L124.12 1014.35 L124.63 1013.95 L125.14 1013.54 L125.66 1013.12 L126.17 1012.69 L126.68 1012.25 L127.19 1011.8 L127.71 1011.34 L128.22 1010.86 L128.73 1010.38 L129.24 1009.88 L129.76 1009.37 L130.27 1008.85 L130.78 1008.31 L131.3 1007.76 L131.81 1007.2 L132.32 1006.63 L132.83 1006.05 L133.35 1005.46 L133.86 1004.86 L134.37 1004.25 L134.88 1003.63 L135.4 1003 L135.91 1002.36 L136.42 1001.72 L136.94 1001.07 L137.45 1000.41 L137.96 999.75 L138.47 999.08 L138.99 998.4 L139.5 997.72 L140.01 997.04 L140.52 996.35 L141.04 995.66 L141.55 994.96 L142.06 994.26 L142.57 993.56 L143.09 992.86 L143.6 992.15 L144.11 991.45 L144.63 990.74 L145.14 990.04 L145.65 989.33 L146.16 988.63 L146.68 987.92 L147.19 987.22 L147.7 986.52 L148.21 985.82 L148.73 985.12 L149.24 984.43 L149.75 983.74 L150.26 983.06 L151.29 981.7 L152.32 980.36 L153.34 979.05 L154.37 977.74 L155.39 976.46 L156.42 975.19 L157.44 973.94 L158.47 972.7 L159.49 971.48 L160.52 970.28 L161.54 969.09 L162.57 967.92 L163.59 966.76 L164.62 965.61 L165.65 964.48 L166.67 963.36 L167.7 962.26 L168.72 961.17 L169.75 960.09 L170.77 959.03 L171.8 957.98 L172.82 956.93 L173.85 955.9 L174.87 954.89 L175.9 953.88 L176.92 952.88 L177.95 951.9 L178.98 950.92 L180 949.95 L181.03 949 L182.05 948.05 L183.08 947.11 L184.1 946.18 L185.13 945.26 L186.15 944.34 L187.18 943.44 L188.2 942.54 L189.23 941.64 L190.25 940.76 L191.28 939.88 L192.31 939.01 L193.33 938.14 L194.36 937.28 L195.38 936.42 L196.41 935.57 L197.43 934.72 L198.46 933.88 L199.48 933.04 L200.51 932.21 L201.53 931.38 L202.56 930.56 L203.58 929.74 L204.61 928.93 L205.64 928.11 L206.66 927.31 L207.69 926.5 L208.71 925.7 L209.74 924.9 L210.76 924.1 L211.79 923.31 L212.81 922.52 L213.84 921.73 L214.86 920.94 L215.89 920.15 L216.91 919.37 L217.94 918.58 L218.97 917.8 L219.99 917.02 L221.02 916.24 L222.04 915.46 L223.07 914.68 L224.09 913.9 L225.12 913.13 L226.14 912.35 L227.17 911.57 L228.19 910.79 L229.22 910.01 L230.24 909.23 L231.27 908.45 L232.29 907.66 L233.32 906.88 L234.35 906.09 L235.37 905.31 L236.4 904.52 L237.42 903.73 L238.45 902.94 L239.47 902.15 L240.5 901.36 L241.52 900.58 L242.55 899.79 L243.57 899 L244.6 898.21 L245.62 897.43 L246.65 896.64 L247.68 895.86 L248.7 895.08 L249.73 894.3 L250.75 893.52 L251.78 892.74 L252.8 891.97 L253.83 891.2 L254.85 890.43 L255.88 889.67 L256.9 888.9 L257.93 888.15 L258.95 887.39 L259.98 886.64 L261.01 885.89 L262.03 885.15 L263.06 884.41 L264.08 883.68 L265.11 882.95 L266.13 882.22 L267.16 881.5 L268.18 880.79 L269.21 880.08 L270.23 879.38 L271.26 878.68 L272.28 877.99 L273.31 877.3 L274.34 876.63 L275.36 875.95 L276.39 875.29 L277.41 874.63 L278.44 873.98 L279.46 873.33 L280.49 872.69 L281.51 872.05 L282.54 871.42 L283.56 870.79 L284.59 870.17 L285.61 869.55 L286.64 868.94 L287.67 868.34 L288.69 867.73 L289.72 867.14 L290.74 866.54 L291.77 865.95 L292.79 865.37 L293.82 864.78 L294.84 864.21 L295.87 863.63 L296.89 863.06 L297.92 862.49 L298.94 861.92 L299.97 861.36 L301 860.8 L302.02 860.24 L303.05 859.69 L304.07 859.13 L305.1 858.58 L306.12 858.03 L307.15 857.49 L308.17 856.94 L309.2 856.4 L310.22 855.85 L311.25 855.31 L312.27 854.77 L313.3 854.23 L314.32 853.69 L316.89 852.34 L319.45 851 L322.02 849.67 L324.58 848.34 L327.14 847.03 L329.71 845.72 L332.27 844.42 L334.83 843.14 L337.4 841.87 L339.96 840.62 L342.52 839.38 L345.09 838.16 L347.65 836.96 L350.21 835.78 L352.78 834.63 L355.34 833.49 L357.9 832.38 L360.47 831.3 L363.03 830.24 L365.59 829.21 L368.16 828.21 L370.72 827.25 L373.28 826.31 L375.85 825.41 L378.41 824.54 L380.97 823.71 L383.54 822.91 L386.1 822.16 L388.66 821.44 L391.23 820.77 L393.79 820.14 L396.36 819.55 L398.92 819.01 L401.48 818.51 L404.05 818.06 L406.61 817.66 L409.17 817.32 L411.74 817.02 L414.3 816.77 L416.86 816.58 L419.49 816.45 L422.12 816.36 L424.75 816.34 L427.38 816.37 L430.01 816.45 L432.64 816.58 L435.27 816.76 L437.9 816.99 L440.52 817.27 L443.15 817.59 L445.78 817.95 L448.41 818.36 L451.04 818.8 L453.67 819.29 L456.3 819.81 L458.93 820.37 L461.56 820.96 L464.19 821.59 L466.82 822.24 L469.45 822.93 L472.07 823.65 L474.7 824.39 L477.33 825.16 L479.96 825.95 L482.59 826.77 L485.22 827.6 L487.85 828.46 L490.48 829.33 L493.11 830.22 L495.74 831.12 L498.37 832.04 L501 832.97 L503.62 833.91 L506.25 834.86 L508.88 835.82 L511.51 836.78 L514.14 837.75 L516.77 838.72 L519.4 839.69"/>
<rect class="mgc" x="105.75" y="1019.7" width="7" height="7"/>
<rect class="mgc" x="126.26" y="1015.65" width="7" height="7"/>
<rect class="mgc" x="146.76" y="1005.53" width="7" height="7"/>
<rect class="mgc" x="187.78" y="998.45" width="7" height="7"/>
<rect class="mgc" x="228.79" y="977.2" width="7" height="7"/>
<rect class="mgc" x="269.81" y="971.29" width="7" height="7"/>
<rect class="mgc" x="310.82" y="970.79" width="7" height="7"/>
<rect class="mgc" x="413.36" y="928.96" width="7" height="7"/>
<rect class="mgc" x="515.9" y="971.29" width="7" height="7"/>
<circle class="mrc" cx="109.25" cy="1023.2" r="3.8"/>
<circle class="mrc" cx="129.76" cy="1009.37" r="3.8"/>
<circle class="mrc" cx="150.26" cy="983.06" r="3.8"/>
<circle class="mrc" cx="191.28" cy="939.88" r="3.8"/>
<circle class="mrc" cx="232.29" cy="907.66" r="3.8"/>
<circle class="mrc" cx="273.31" cy="877.3" r="3.8"/>
<circle class="mrc" cx="314.32" cy="853.69" r="3.8"/>
<circle class="mrc" cx="416.86" cy="816.58" r="3.8"/>
<circle class="mrc" cx="519.4" cy="839.69" r="3.8"/>
<path class="cgc" d="M169.6 795.3H198.6"/>
<rect class="mgc" x="180.6" y="791.8" width="7" height="7"/>
<text class="lg" x="210.3" y="802.5">XHY-4</text>
<path class="crc" d="M169.6 819.9H198.6"/>
<circle class="mrc" cx="184.1" cy="819.9" r="3.8"/>
<text class="lg" x="210.3" y="827.1">KX-048</text>
</svg></body></html>
